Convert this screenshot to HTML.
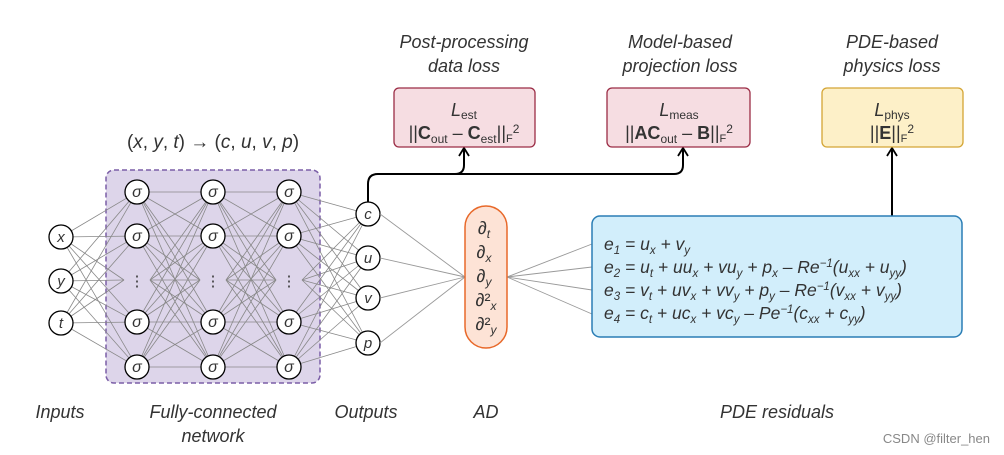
<!DOCTYPE html>
<html><head><meta charset="utf-8"><style>
html,body{margin:0;padding:0;background:#fff;width:1004px;height:455px;overflow:hidden}
svg text{font-family:"Liberation Sans",sans-serif;fill:#333}
.it{font-style:italic}
</style></head><body>
<svg id="s" width="1004" height="455" xmlns="http://www.w3.org/2000/svg">
<rect x="106" y="170" width="214" height="213" rx="8" fill="#ddd5ea" stroke="#7b5ea7" stroke-width="1.5" stroke-dasharray="5,3"/>
<g id="lines" stroke="#888" stroke-width="0.8"></g>
<g id="nodes"></g>
<g stroke="#999" stroke-width="0.9">
<line x1="380" y1="214" x2="465" y2="277"/><line x1="380" y1="258" x2="465" y2="277"/>
<line x1="380" y1="298" x2="465" y2="277"/><line x1="380" y1="343" x2="465" y2="277"/>
<line x1="507" y1="277" x2="592" y2="244"/><line x1="507" y1="277" x2="592" y2="267"/>
<line x1="507" y1="277" x2="592" y2="290"/><line x1="507" y1="277" x2="592" y2="314"/>
</g>
<rect x="465" y="206" width="42" height="142" rx="21" fill="#fde3d6" stroke="#e8692a" stroke-width="1.5"/>
<g font-size="18" text-anchor="middle">
<text x="484" y="234">∂<tspan class="it" font-size="12" dy="4">t</tspan></text>
<text x="484" y="258">∂<tspan class="it" font-size="12" dy="4">x</tspan></text>
<text x="484" y="282">∂<tspan class="it" font-size="12" dy="4">y</tspan></text>
<text x="486" y="306">∂²<tspan class="it" font-size="12" dy="4">x</tspan></text>
<text x="486" y="330">∂²<tspan class="it" font-size="12" dy="4">y</tspan></text>
</g>
<path d="M368 202 V184 Q368 174 378 174 H455 Q464 174 464 165 V149" fill="none" stroke="#000" stroke-width="2"/>
<path d="M455 174 H674 Q683 174 683 165 V149" fill="none" stroke="#000" stroke-width="2"/>
<path d="M459 156 L464 148 L469 156 M678 156 L683 148 L688 156 M887 156 L892 148 L897 156" fill="none" stroke="#000" stroke-width="1.8"/>
<line x1="892" y1="216" x2="892" y2="149" stroke="#000" stroke-width="2"/>
<rect x="394" y="88" width="141" height="59" rx="5" fill="#f6dde2" stroke="#9b2c45" stroke-width="1.3"/>
<rect x="607" y="88" width="143" height="59" rx="5" fill="#f6dde2" stroke="#9b2c45" stroke-width="1.3"/>
<rect x="822" y="88" width="141" height="59" rx="5" fill="#fdf0c8" stroke="#d4a534" stroke-width="1.3"/>
<rect x="592" y="216" width="370" height="121" rx="8" fill="#d2eefb" stroke="#2a7db5" stroke-width="1.5"/>
<g font-size="18" text-anchor="middle" class="it">
<text x="464" y="48">Post-processing</text><text x="464" y="72">data loss</text>
<text x="680" y="48">Model-based</text><text x="680" y="72">projection loss</text>
<text x="892" y="48">PDE-based</text><text x="892" y="72">physics loss</text>
</g>
<g font-size="18" text-anchor="middle">
<text x="464" y="116"><tspan class="it">L</tspan><tspan font-size="12" dy="3">est</tspan></text>
<text x="464" y="139">||<tspan font-weight="bold">C</tspan><tspan font-size="12" dy="4">out</tspan><tspan dy="-4"> – </tspan><tspan font-weight="bold">C</tspan><tspan font-size="12" dy="4">est</tspan><tspan dy="-4">||</tspan><tspan font-size="11" dy="3">F</tspan><tspan font-size="12" dy="-9">2</tspan></text>
<text x="679" y="116"><tspan class="it">L</tspan><tspan font-size="12" dy="3">meas</tspan></text>
<text x="679" y="139">||<tspan font-weight="bold">AC</tspan><tspan font-size="12" dy="4">out</tspan><tspan dy="-4"> – </tspan><tspan font-weight="bold">B</tspan><tspan dy="0">||</tspan><tspan font-size="11" dy="3">F</tspan><tspan font-size="12" dy="-9">2</tspan></text>
<text x="892" y="116"><tspan class="it">L</tspan><tspan font-size="12" dy="3">phys</tspan></text>
<text x="892" y="139">||<tspan font-weight="bold">E</tspan>||<tspan font-size="11" dy="3">F</tspan><tspan font-size="12" dy="-9">2</tspan></text>
</g>
<g font-size="17.5" class="it">
<text x="604" y="250">e<tspan font-size="11.5" dy="4">1</tspan><tspan dy="-4"> = u</tspan><tspan font-size="11.5" dy="4">x</tspan><tspan dy="-4"> + v</tspan><tspan font-size="11.5" dy="4">y</tspan></text>
<text x="604" y="273">e<tspan font-size="11.5" dy="4">2</tspan><tspan dy="-4"> = u</tspan><tspan font-size="11.5" dy="4">t</tspan><tspan dy="-4"> + uu</tspan><tspan font-size="11.5" dy="4">x</tspan><tspan dy="-4"> + vu</tspan><tspan font-size="11.5" dy="4">y</tspan><tspan dy="-4"> + p</tspan><tspan font-size="11.5" dy="4">x</tspan><tspan dy="-4"> – Re</tspan><tspan font-size="11.5" dy="-6">−1</tspan><tspan dy="6">(u</tspan><tspan font-size="11.5" dy="4">xx</tspan><tspan dy="-4"> + u</tspan><tspan font-size="11.5" dy="4">yy</tspan><tspan dy="-4">)</tspan></text>
<text x="604" y="296">e<tspan font-size="11.5" dy="4">3</tspan><tspan dy="-4"> = v</tspan><tspan font-size="11.5" dy="4">t</tspan><tspan dy="-4"> + uv</tspan><tspan font-size="11.5" dy="4">x</tspan><tspan dy="-4"> + vv</tspan><tspan font-size="11.5" dy="4">y</tspan><tspan dy="-4"> + p</tspan><tspan font-size="11.5" dy="4">y</tspan><tspan dy="-4"> – Re</tspan><tspan font-size="11.5" dy="-6">−1</tspan><tspan dy="6">(v</tspan><tspan font-size="11.5" dy="4">xx</tspan><tspan dy="-4"> + v</tspan><tspan font-size="11.5" dy="4">yy</tspan><tspan dy="-4">)</tspan></text>
<text x="604" y="319">e<tspan font-size="11.5" dy="4">4</tspan><tspan dy="-4"> = c</tspan><tspan font-size="11.5" dy="4">t</tspan><tspan dy="-4"> + uc</tspan><tspan font-size="11.5" dy="4">x</tspan><tspan dy="-4"> + vc</tspan><tspan font-size="11.5" dy="4">y</tspan><tspan dy="-4"> – Pe</tspan><tspan font-size="11.5" dy="-6">−1</tspan><tspan dy="6">(c</tspan><tspan font-size="11.5" dy="4">xx</tspan><tspan dy="-4"> + c</tspan><tspan font-size="11.5" dy="4">yy</tspan><tspan dy="-4">)</tspan></text>
</g>
<text x="213" y="148" font-size="19" text-anchor="middle">(<tspan class="it">x</tspan>, <tspan class="it">y</tspan>, <tspan class="it">t</tspan>) → (<tspan class="it">c</tspan>, <tspan class="it">u</tspan>, <tspan class="it">v</tspan>, <tspan class="it">p</tspan>)</text>
<g font-size="18" text-anchor="middle" class="it">
<text x="60" y="418">Inputs</text>
<text x="213" y="418">Fully-connected</text><text x="213" y="442">network</text>
<text x="366" y="418">Outputs</text>
<text x="486" y="418">AD</text>
<text x="777" y="418">PDE residuals</text>
</g>
<text x="990" y="443" font-size="13" text-anchor="end" style="fill:#888">CSDN @filter_hen</text>
</svg>
<script>
var NS="http://www.w3.org/2000/svg";
var L=document.getElementById("lines"),N=document.getElementById("nodes");
var inp=[[61,237,"x"],[61,281,"y"],[61,323,"t"]];
var cols=[137,213,289],rows=[192,236,280,322,367];
var out=[[368,214,"c"],[368,258,"u"],[368,298,"v"],[368,343,"p"]];
function ln(a,b,c,d){var e=document.createElementNS(NS,"line");e.setAttribute("x1",a);e.setAttribute("y1",b);e.setAttribute("x2",c);e.setAttribute("y2",d);L.appendChild(e);}
function px(x,y,left){ if(y===280) return left?x-13:x+13; return x;}
inp.forEach(function(i){rows.forEach(function(r){ln(i[0],i[1],px(137,r,true),r);});});
for(var c=0;c<2;c++)rows.forEach(function(a){rows.forEach(function(b){ln(px(cols[c],a,false),a,px(cols[c+1],b,true),b);});});
rows.forEach(function(a){out.forEach(function(o){ln(px(289,a,false),a,o[0],o[1]);});});
function circ(x,y,t,s){var g=document.createElementNS(NS,"circle");g.setAttribute("cx",x);g.setAttribute("cy",y);g.setAttribute("r",12);g.setAttribute("fill","#fff");g.setAttribute("stroke","#000");g.setAttribute("stroke-width","1.3");N.appendChild(g);
var tx=document.createElementNS(NS,"text");tx.setAttribute("x",x);tx.setAttribute("y",y+5);tx.setAttribute("text-anchor","middle");tx.setAttribute("font-size",s||15);tx.setAttribute("class","it");tx.textContent=t;N.appendChild(tx);}
inp.forEach(function(i){circ(i[0],i[1],i[2]);});
out.forEach(function(o){circ(o[0],o[1],o[2]);});
cols.forEach(function(x){rows.forEach(function(r){if(r===280){var tx=document.createElementNS(NS,"text");tx.setAttribute("x",x);tx.setAttribute("y",r+6);tx.setAttribute("text-anchor","middle");tx.setAttribute("font-size",15);tx.textContent="⋮";N.appendChild(tx);}else circ(x,r,"σ",16);});});
</script>
</body></html>
